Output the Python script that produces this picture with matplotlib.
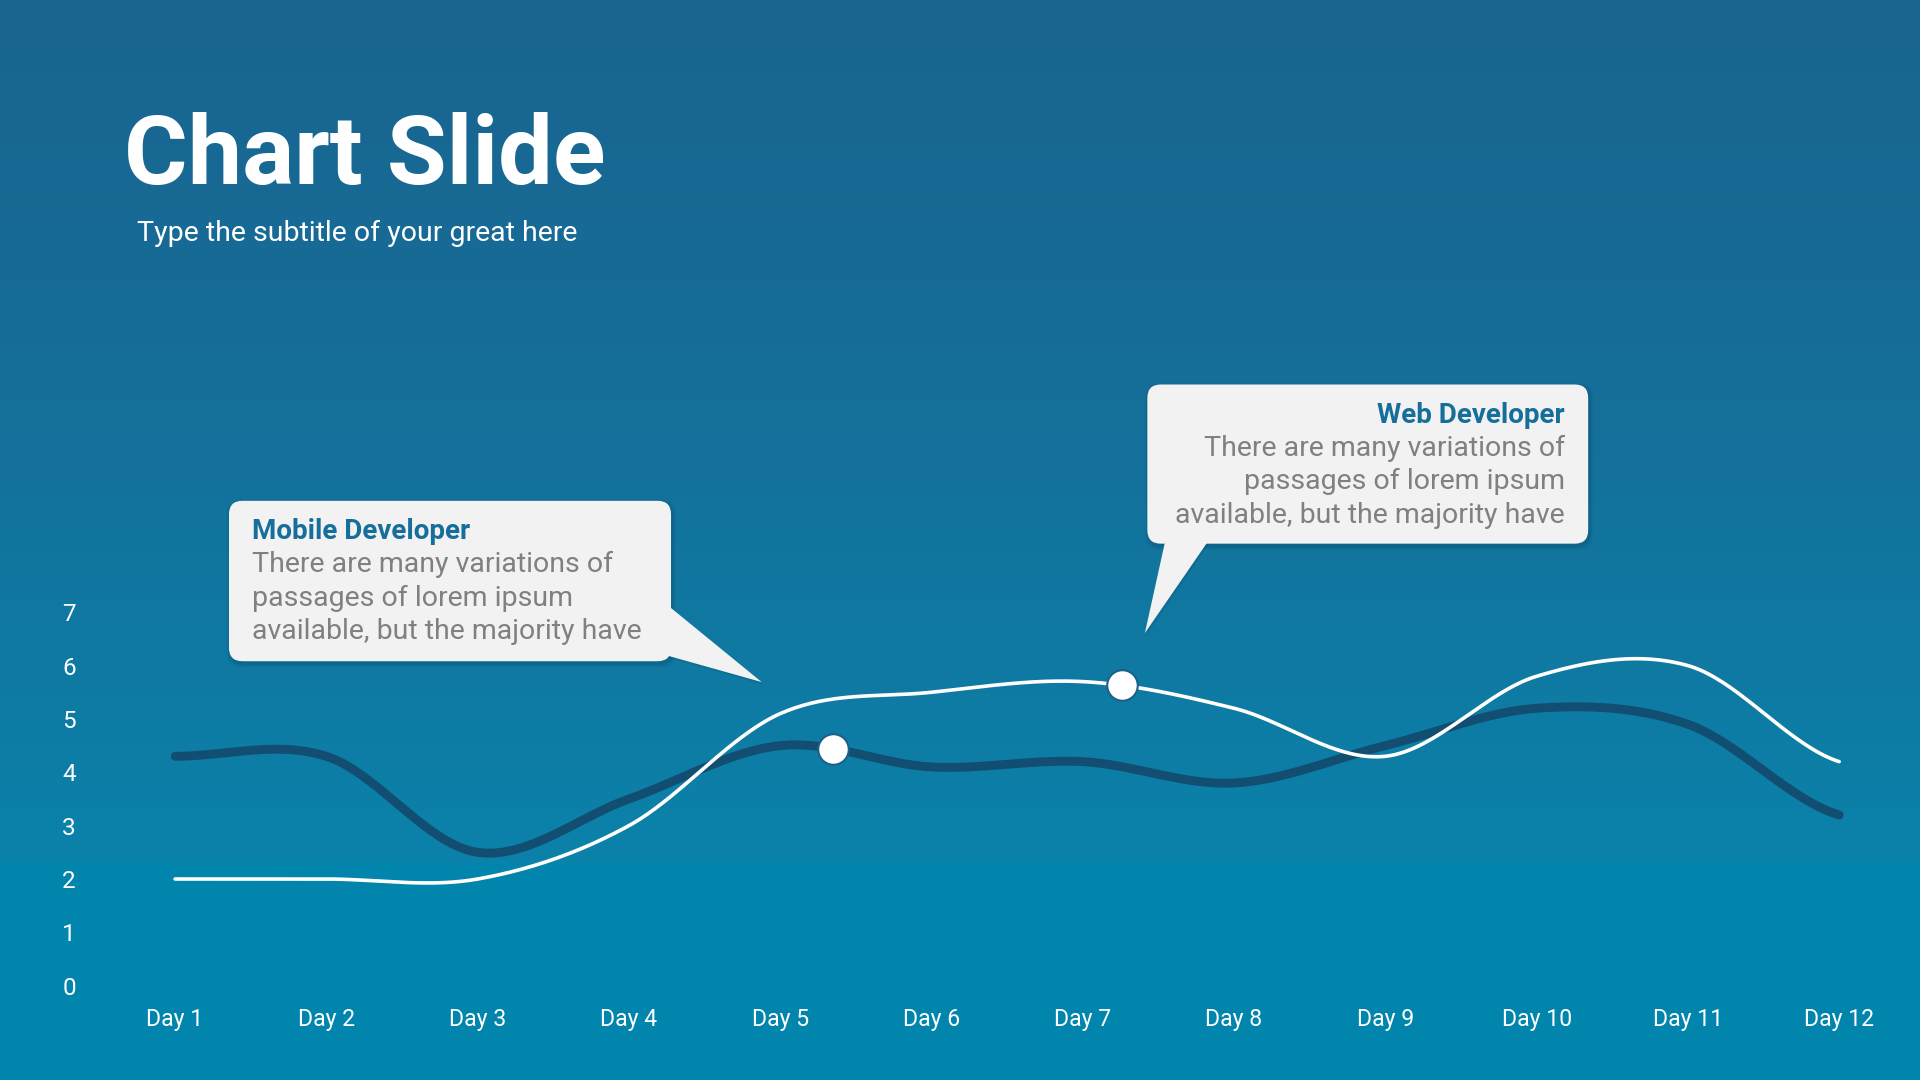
import numpy as np
import matplotlib
matplotlib.use("Agg")
import matplotlib.pyplot as plt
from matplotlib.patches import FancyBboxPatch, Polygon, Rectangle
from matplotlib.colors import LinearSegmentedColormap

plt.rcParams['font.family'] = ['Roboto', 'DejaVu Sans']

# ---------------- data ----------------
days = ["Day 1", "Day 2", "Day 3", "Day 4", "Day 5", "Day 6",
        "Day 7", "Day 8", "Day 9", "Day 10", "Day 11", "Day 12"]
mobile = [4.3, 4.3, 2.5, 3.5, 4.5, 4.1, 4.2, 3.8, 4.5, 5.2, 4.9, 3.2]
web = [2.0, 2.0, 2.0, 3.0, 5.1, 5.5, 5.7, 5.2, 4.3, 5.8, 6.0, 4.2]
y_ticks = [0, 1, 2, 3, 4, 5, 6, 7]
marker_pos_mobile = 4.35
marker_pos_web = 6.26

title = "Chart Slide"
subtitle = "Type the subtitle of your great here"
mobile_title = "Mobile Developer"
web_title = "Web Developer"
body_lines = ["There are many variations of", "passages of lorem ipsum",
              "available, but the majority have"]


def catmull(vals, n=40):
    p = np.asarray(vals, float)
    k = len(p)
    m = np.zeros(k)
    m[1:-1] = (p[2:] - p[:-2]) / 2.0
    m[0] = (p[1] - p[0]) / 2.0
    m[-1] = (p[-1] - p[-2]) / 2.0
    xs, ys = [], []
    for i in range(k - 1):
        t = np.linspace(0, 1, n, endpoint=(i == k - 2))
        h00 = 2 * t**3 - 3 * t**2 + 1
        h10 = t**3 - 2 * t**2 + t
        h01 = -2 * t**3 + 3 * t**2
        h11 = t**3 - t**2
        ys.append(h00 * p[i] + h10 * m[i] + h01 * p[i + 1] + h11 * m[i + 1])
        xs.append(i + t)
    return np.concatenate(xs), np.concatenate(ys)


W, H = 1568.0, 882.0  # design units (reference pixel grid)

fig = plt.figure(figsize=(19.2, 10.8), dpi=100)

# ---------- background ----------
bg = fig.add_axes([0, 0, 1, 1])
bg.set_xlim(0, W)
bg.set_ylim(H, 0)
bg.axis('off')
cmap = LinearSegmentedColormap.from_list('bg', ['#1a6490', '#14709a', '#0b82aa'])
grad = np.linspace(0, 1, 256).reshape(-1, 1)
bg.imshow(grad, cmap=cmap, extent=[0, W, 705, 0], aspect='auto', zorder=0)
bg.add_patch(Rectangle((0, 705), W, H - 705, color='#0285ad', zorder=0.5, lw=0))

# ---------- titles ----------
bg.text(101, 150, title, fontsize=70, fontweight='bold', color='white',
        ha='left', va='baseline', zorder=5)
bg.text(112, 197, subtitle, fontsize=20.5, color='white',
        ha='left', va='baseline', zorder=5)


def bubble(x0, y0, x1, y1, tail):
    # shadow
    for off, a in [(6, 0.06), (4, 0.08), (2, 0.10)]:
        bg.add_patch(FancyBboxPatch((x0 - off / 2 + 1, y0 - off / 2 + 2), x1 - x0 + off, y1 - y0 + off,
                                    boxstyle="round,pad=0,rounding_size=12",
                                    fc='#0a3350', ec='none', alpha=a, zorder=2))
    bg.add_patch(Polygon([(x + 1, y + 2) for x, y in tail], closed=True,
                         fc='#0a3350', ec='none', alpha=0.15, zorder=2))
    bg.add_patch(FancyBboxPatch((x0, y0), x1 - x0, y1 - y0,
                                boxstyle="round,pad=0,rounding_size=11",
                                fc='#f2f2f2', ec='none', zorder=3))
    bg.add_patch(Polygon(tail, closed=True, fc='#f2f2f2', ec='none', zorder=3))


bubble(187, 409, 548, 540, [(540, 490), (622, 557), (540, 534)])
bubble(937, 314, 1297, 444, [(952, 440), (988, 440), (935, 517)])

lh = 27.5
bg.text(206, 434, mobile_title, fontsize=20, fontweight='bold', color='#166f9b',
        ha='left', va='center', zorder=5)
for i, s in enumerate(body_lines):
    bg.text(206, 461 + i * lh, s, fontsize=20.5, color='#808080',
            ha='left', va='center', zorder=5)
bg.text(1278, 339, web_title, fontsize=20, fontweight='bold', color='#166f9b',
        ha='right', va='center', zorder=5)
for i, s in enumerate(body_lines):
    bg.text(1278, 366 + i * lh, s, fontsize=20.5, color='#808080',
            ha='right', va='center', zorder=5)

# ---------- chart axes ----------
x_left_px, x_right_px = 143 - 61.77, 1502 + 61.77
ax = fig.add_axes([x_left_px / W, 1 - 805 / H, (x_right_px - x_left_px) / W, (805 - 500) / H])
ax.set_facecolor('none')
ax.set_xlim(-0.5, 11.5)
ax.set_ylim(0, 7)
for sp in ax.spines.values():
    sp.set_visible(False)
ax.set_xticks(range(len(days)))
ax.set_xticklabels(days)
ax.set_yticks(y_ticks)
ax.tick_params(axis='x', length=0, pad=16, labelsize=16.6, labelcolor='white')
ax.tick_params(axis='y', length=0, pad=17, labelsize=17.5, labelcolor='white')

xm, ym = catmull(mobile)
xw, yw = catmull(web)
ax.plot(xm, ym, color='#124d72', lw=6.4, solid_capstyle='round', zorder=3, clip_on=False)
ax.plot(xw, yw, color='white', lw=2.6, solid_capstyle='round', zorder=4, clip_on=False)

ax.plot([marker_pos_mobile], [np.interp(marker_pos_mobile, xm, ym)], 'o', ms=22,
        mfc='white', mec='#1d5f88', mew=1.5, zorder=6, clip_on=False)
ax.plot([marker_pos_web], [np.interp(marker_pos_web, xw, yw)], 'o', ms=22,
        mfc='white', mec='#1d5f88', mew=1.5, zorder=6, clip_on=False)

fig.savefig('out.png', dpi=100)
